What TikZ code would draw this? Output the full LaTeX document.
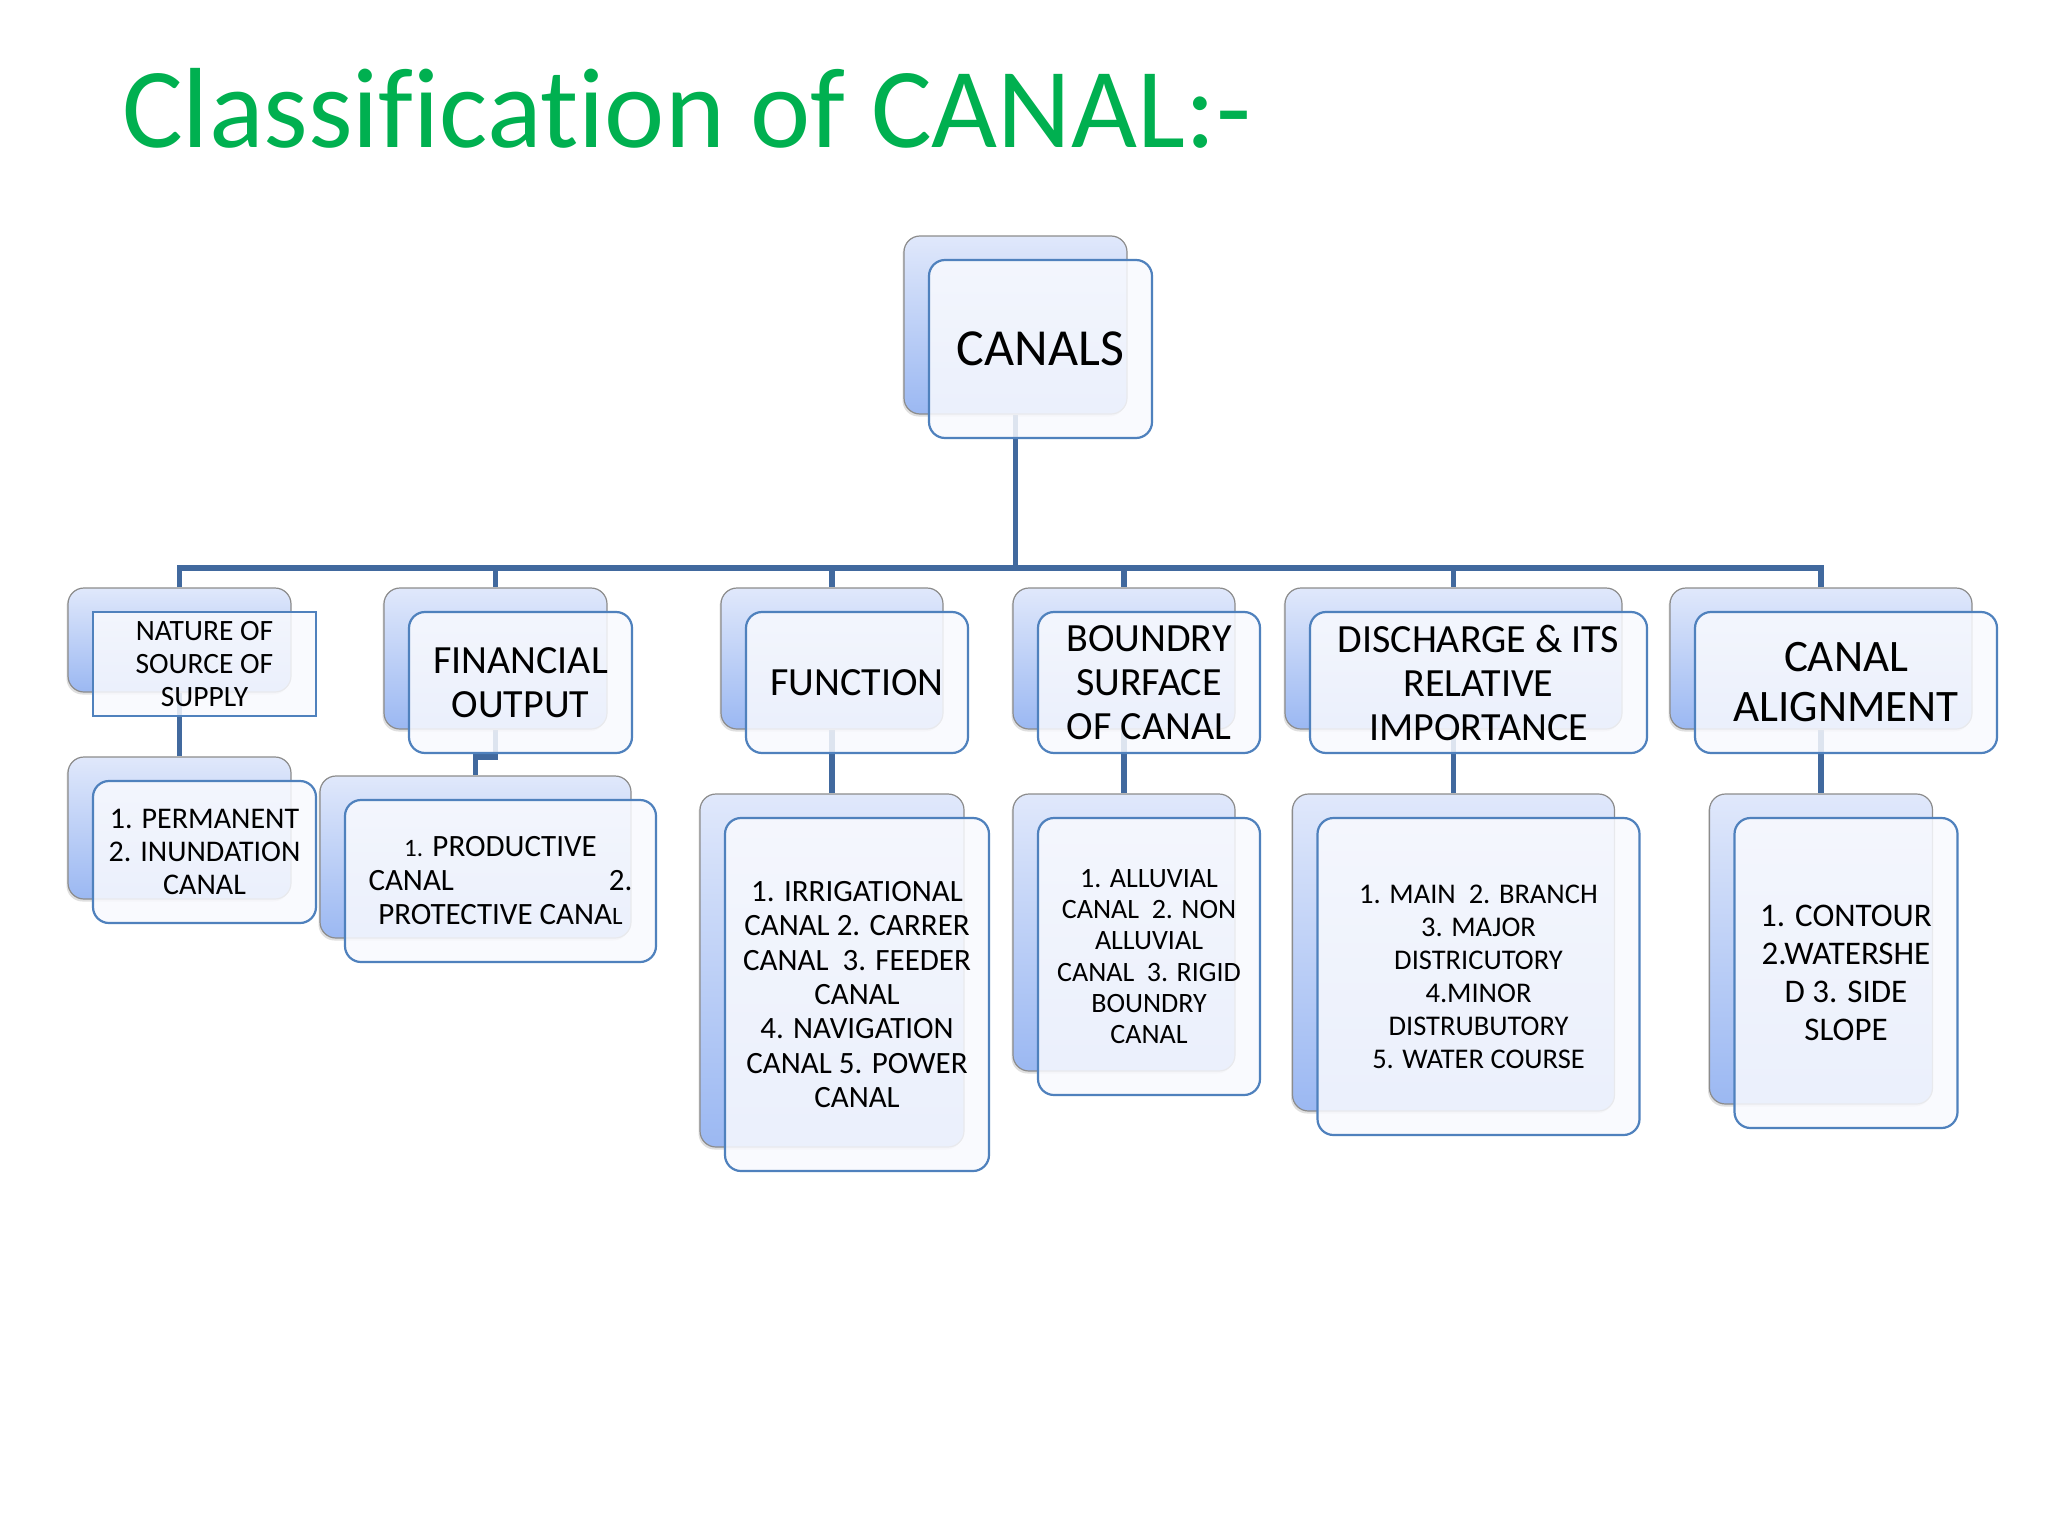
\documentclass[tikz,border=0pt]{standalone}
\usepackage{fontspec}
\setmainfont{Carlito}[Ligatures=NoCommon]
\usetikzlibrary{positioning,shadows,backgrounds}
\definecolor{titlegreen}{HTML}{00B050}
\definecolor{linkblue}{HTML}{41699E}
\definecolor{edgeblue}{HTML}{4F81BD}
\definecolor{shadetop}{HTML}{E0E8FB}
\definecolor{shadebot}{HTML}{9BB8F2}
\definecolor{facefill}{HTML}{F9FAFE}
\tikzset{
  back/.style={draw=black!45, line width=1.2pt, rounded corners=16pt,
    top color=shadetop, bottom color=shadebot, inner sep=0pt,
    drop shadow={shadow xshift=-1.5pt, shadow yshift=-2.5pt, opacity=0.25}},
  face/.style={draw=edgeblue, line width=2.2pt, rounded corners=16pt,
    fill=facefill, fill opacity=0.85, text opacity=1, align=center, inner sep=0pt},
  boxsize/.style 2 args={minimum width=#1pt, minimum height=#2pt},
  txt/.style 2 args={font=\fontsize{#1}{#2}\selectfont},
  link/.style={draw=linkblue, line width=5.5pt}
}
\begin{document}
\begin{tikzpicture}[x=1pt,y=-1pt]
  \useasboundingbox (0,0) rectangle (2048,1536);
  % title
  \node[anchor=base west, inner sep=0pt, text=titlegreen, txt={114}{130}] (title) at (122,148) {Classification of CANAL:-};

  % root
  \node[back, boxsize={223}{178}] (root) at (1015.5,325) {};
  \node[face, boxsize={223}{178}, txt={52}{60}] (rootf) at ([shift={(25pt,-24pt)}]root.center) {CANALS};

  % first level
  \node[back, boxsize={223}{104}] (a1) at (179.5,640) {};
  \node[back, boxsize={223}{141}] (a2) at (495.5,658.5) {};
  \node[back, boxsize={222}{141}] (a3) at (832,658.5) {};
  \node[back, boxsize={222}{141}] (a4) at (1124,658.5) {};
  \node[back, boxsize={337}{141}] (a5) at (1453.5,658.5) {};
  \node[back, boxsize={302}{141}] (a6) at (1821,658.5) {};
  \node[face, sharp corners, line width=1.6pt, boxsize={223}{104}, txt={29.5}{33}] (a1f) at ([shift={(25pt,-24pt)}]a1.center) {NATURE OF\\SOURCE OF\\SUPPLY};
  \node[face, boxsize={223}{141}, txt={40}{44}] (a2f) at ([shift={(25pt,-24pt)}]a2.center) {FINANCIAL\\OUTPUT};
  \node[face, boxsize={222}{141}, txt={40}{44}] (a3f) at ([shift={(25pt,-24pt)}]a3.center) {FUNCTION};
  \node[face, boxsize={222}{141}, txt={40}{44}] (a4f) at ([shift={(25pt,-24pt)}]a4.center) {BOUNDRY\\SURFACE\\OF CANAL};
  \node[face, boxsize={337}{141}, txt={40}{44}] (a5f) at ([shift={(25pt,-24pt)}]a5.center) {DISCHARGE \& ITS\\RELATIVE\\IMPORTANCE};
  \node[face, boxsize={302}{141}, txt={45}{50}] (a6f) at ([shift={(25pt,-24pt)}]a6.center) {CANAL\\ALIGNMENT};

  % second level
  \node[back, boxsize={223}{142}] (b1) at (179.5,828) {};
  \node[back, boxsize={311}{162}] (b2) at (475.5,857) {};
  \node[back, boxsize={264}{353}] (b3) at (832,970.5) {};
  \node[back, boxsize={222}{277}] (b4) at (1124,932.5) {};
  \node[back, boxsize={322}{317}] (b5) at (1453.5,952.5) {};
  \node[back, boxsize={223}{310}] (b6) at (1821,949) {};
  \node[face, boxsize={223}{142}, txt={30}{33}] (b1f) at ([shift={(25pt,-24pt)}]b1.center) {1. PERMANENT\\2. INUNDATION\\CANAL};
  \node[face, boxsize={311}{162}, txt={31}{34}] (b2f) at ([shift={(25pt,-24pt)}]b2.center)
    {{\fontsize{25}{34}\selectfont 1.} PRODUCTIVE\\\makebox[264pt]{CANAL\hfill 2.}\\PROTECTIVE CANA{\fontsize{25}{34}\selectfont L}};
  \node[face, boxsize={264}{353}, txt={31}{34.4}] (b3f) at ([shift={(25pt,-24pt)}]b3.center)
    {1. IRRIGATIONAL\\CANAL 2. CARRER\\CANAL\ \ 3. FEEDER\\CANAL\\4. NAVIGATION\\CANAL 5. POWER\\CANAL};
  \node[face, boxsize={222}{277}, txt={28}{31.3}] (b4f) at ([shift={(25pt,-24pt)}]b4.center)
    {1. ALLUVIAL\\CANAL\ \ 2. NON\\ALLUVIAL\\CANAL\ \ 3. RIGID\\BOUNDRY\\CANAL};
  \node[face, boxsize={322}{317}, txt={28.5}{33}] (b5f) at ([shift={(25pt,-24pt)}]b5.center)
    {1. MAIN\ \ 2. BRANCH\\3. MAJOR\\DISTRICUTORY\\4.MINOR\\DISTRUBUTORY\\5. WATER COURSE};
  \node[face, boxsize={223}{310}, txt={33}{38}] (b6f) at ([shift={(25pt,-24pt)}]b6.center)
    {1. CONTOUR\\2.WATERSHE\\D 3. SIDE\\SLOPE};

  % connectors behind the boxes
  \begin{scope}[on background layer]
    \fill[white] (0,0) rectangle (2048,1536);
    \coordinate (bus) at (0,568);
    \coordinate (jog) at ([yshift=-3pt]a2f.south);
    \draw[link] (root.south) -- (root.south |- bus);
    \draw[link] (a1.north) -- (a1.north |- bus) -- (a6.north |- bus) -- (a6.north);
    \foreach \n in {a2,a3,a4,a5}
      \draw[link] (\n.north |- bus) -- (\n.north);
    \draw[link] (a1.south) -- (b1.north);
    \draw[link] (a2.south) -- (a2.south |- jog) -| (b2.north);
    \foreach \n/\m in {a3/b3,a4/b4,a5/b5,a6/b6}
      \draw[link] (\n.south) -- (\m.north);
  \end{scope}
\end{tikzpicture}
\end{document}
